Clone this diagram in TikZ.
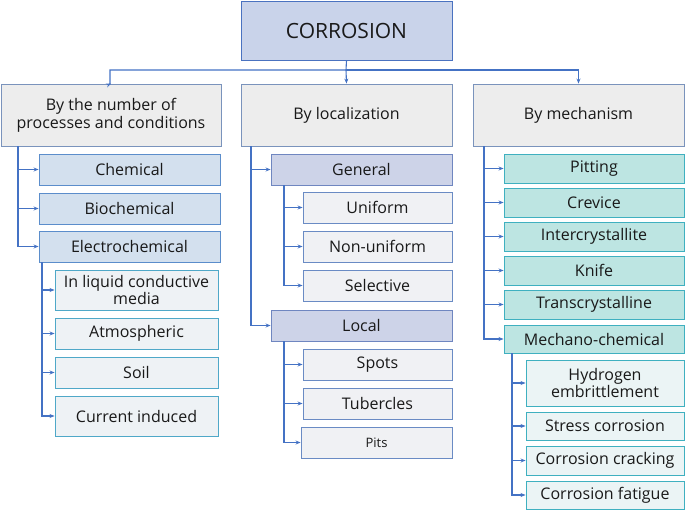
\documentclass[tikz,border=0pt]{standalone}
\usepackage{fontspec}
\setmainfont{Open Sans}
\usetikzlibrary{arrows.meta}
\definecolor{topf}{HTML}{C9D3EA}\definecolor{topd}{HTML}{4A72C0}
\definecolor{lvf}{HTML}{EDEDED}\definecolor{lvd}{HTML}{7A93BC}
\definecolor{c1f}{HTML}{D3E0EE}\definecolor{c1d}{HTML}{5B8DCB}
\definecolor{c1s}{HTML}{EEF2F5}\definecolor{c1sd}{HTML}{4FA8C8}
\definecolor{c2f}{HTML}{CDD3E8}\definecolor{c2d}{HTML}{6F86C0}
\definecolor{c2s}{HTML}{F0F1F4}\definecolor{c2sd}{HTML}{6A8BC4}
\definecolor{c3f}{HTML}{BDE5E2}\definecolor{c3d}{HTML}{3FB0C0}
\definecolor{c3s}{HTML}{EBF4F5}
\definecolor{ln}{HTML}{4472C4}
\newcommand{\bxx}[7]{\node[#6,minimum width={#4-#2},minimum height={#5-#3}] (#1) at ({(#2+#4)/2},{(#3+#5)/2}) {#7};}
\begin{document}
\begin{tikzpicture}[x=1pt,y=-1pt,font=\fontsize{16}{18}\selectfont,
 b/.style={draw,line width=0.9pt,inner sep=1pt,align=center,text=black!90},
 top/.style={b,fill=topf,draw=topd},
 lv/.style={b,fill=lvf,draw=lvd},
 a1/.style={b,fill=c1f,draw=c1d},
 s1/.style={b,fill=c1s,draw=c1sd},
 a2/.style={b,fill=c2f,draw=c2d},
 s2/.style={b,fill=c2s,draw=c2sd},
 a3/.style={b,fill=c3f,draw=c3d},
 s3/.style={b,fill=c3s,draw=c3d},
 arr/.style={draw=ln,line width=1.1pt,-{Stealth[length=5pt,width=4pt]}},
 ln/.style={draw=ln,line width=1.1pt}]
\useasboundingbox (0,0) rectangle (685,509);
\bxx{top}{241}{1}{452}{60}{top,font=\fontsize{21}{23}\selectfont}{CORROSION}
\bxx{A}{1}{84}{221}{146}{lv}{By the number of\\processes and conditions}
\bxx{B}{241}{84}{452}{146}{lv}{By localization}
\bxx{C}{473}{84}{684}{146}{lv}{By mechanism}
% col1
\bxx{chem}{39}{154}{220}{185}{a1}{Chemical}
\bxx{bio}{39}{193}{220}{224}{a1}{Biochemical}
\bxx{el}{39}{231}{220}{262}{a1}{Electrochemical}
\bxx{liq}{55}{270}{218}{310}{s1,font=\fontsize{16}{17}\selectfont}{In liquid conductive\\media}
\bxx{atm}{55}{318}{218}{349}{s1}{Atmospheric}
\bxx{soil}{55}{357}{218}{388}{s1}{Soil}
\bxx{cur}{55}{396}{218}{436}{s1}{Current induced}
% col2
\bxx{gen}{271}{154}{452}{185}{a2}{General}
\bxx{uni}{303}{192}{452}{223}{s2}{Uniform}
\bxx{non}{303}{231}{452}{262}{s2}{Non-uniform}
\bxx{sel}{303}{270}{452}{301}{s2}{Selective}
\bxx{loc}{271}{310}{452}{341}{a2}{Local}
\bxx{spo}{303}{349}{452}{380}{s2}{Spots}
\bxx{tub}{303}{388}{452}{419}{s2}{Tubercles}
\bxx{pit}{301}{427}{452}{458}{s2,font=\fontsize{13}{15}\selectfont}{Pits}
% col3
\bxx{p1}{504}{154}{684}{183}{a3}{Pitting}
\bxx{p2}{504}{188}{684}{217}{a3}{Crevice}
\bxx{p3}{504}{222}{684}{251}{a3}{Intercrystallite}
\bxx{p4}{504}{256}{684}{285}{a3}{Knife}
\bxx{p5}{504}{290}{684}{319}{a3}{Transcrystalline}
\bxx{p6}{504}{325}{684}{353}{a3}{Mechano-chemical}
\bxx{q1}{526}{360}{684}{406}{s3,font=\fontsize{16}{17}\selectfont}{Hydrogen\\embrittlement}
\bxx{q2}{526}{412}{684}{440}{s3}{Stress corrosion}
\bxx{q3}{526}{446}{684}{475}{s3}{Corrosion cracking}
\bxx{q4}{526}{481}{684}{509}{s3}{Corrosion fatigue}
% connectors
\coordinate (h) at (346,70);
\draw[ln] (top.south) -- (h);
\draw[arr] (h) -| (110,84) -- (A.north);
\draw[arr] (h) -- (B.north);
\draw[arr] (h) -| (C.north);
\coordinate (t1) at (18,146);
\foreach \n in {chem,bio,el} \draw[arr] (t1) |- (\n.west);
\coordinate (t1s) at (42,262);
\foreach \n in {liq,atm,soil,cur} \draw[arr] (t1s) |- (\n.west);
\coordinate (t2) at (251,146);
\foreach \n in {gen,loc} \draw[arr] (t2) |- (\n.west);
\coordinate (t2a) at (284,185);
\foreach \n in {uni,non,sel} \draw[arr] (t2a) |- (\n.west);
\coordinate (t2b) at (284,341);
\foreach \n in {spo,tub,pit} \draw[arr] (t2b) |- (\n.west);
\coordinate (t3) at (484,146);
\foreach \n in {p1,p2,p3,p4,p5,p6} \draw[arr] (t3) |- (\n.west);
\coordinate (t3s) at (512,353);
\foreach \n in {q1,q2,q3,q4} \draw[arr] (t3s) |- (\n.west);
\end{tikzpicture}
\end{document}
